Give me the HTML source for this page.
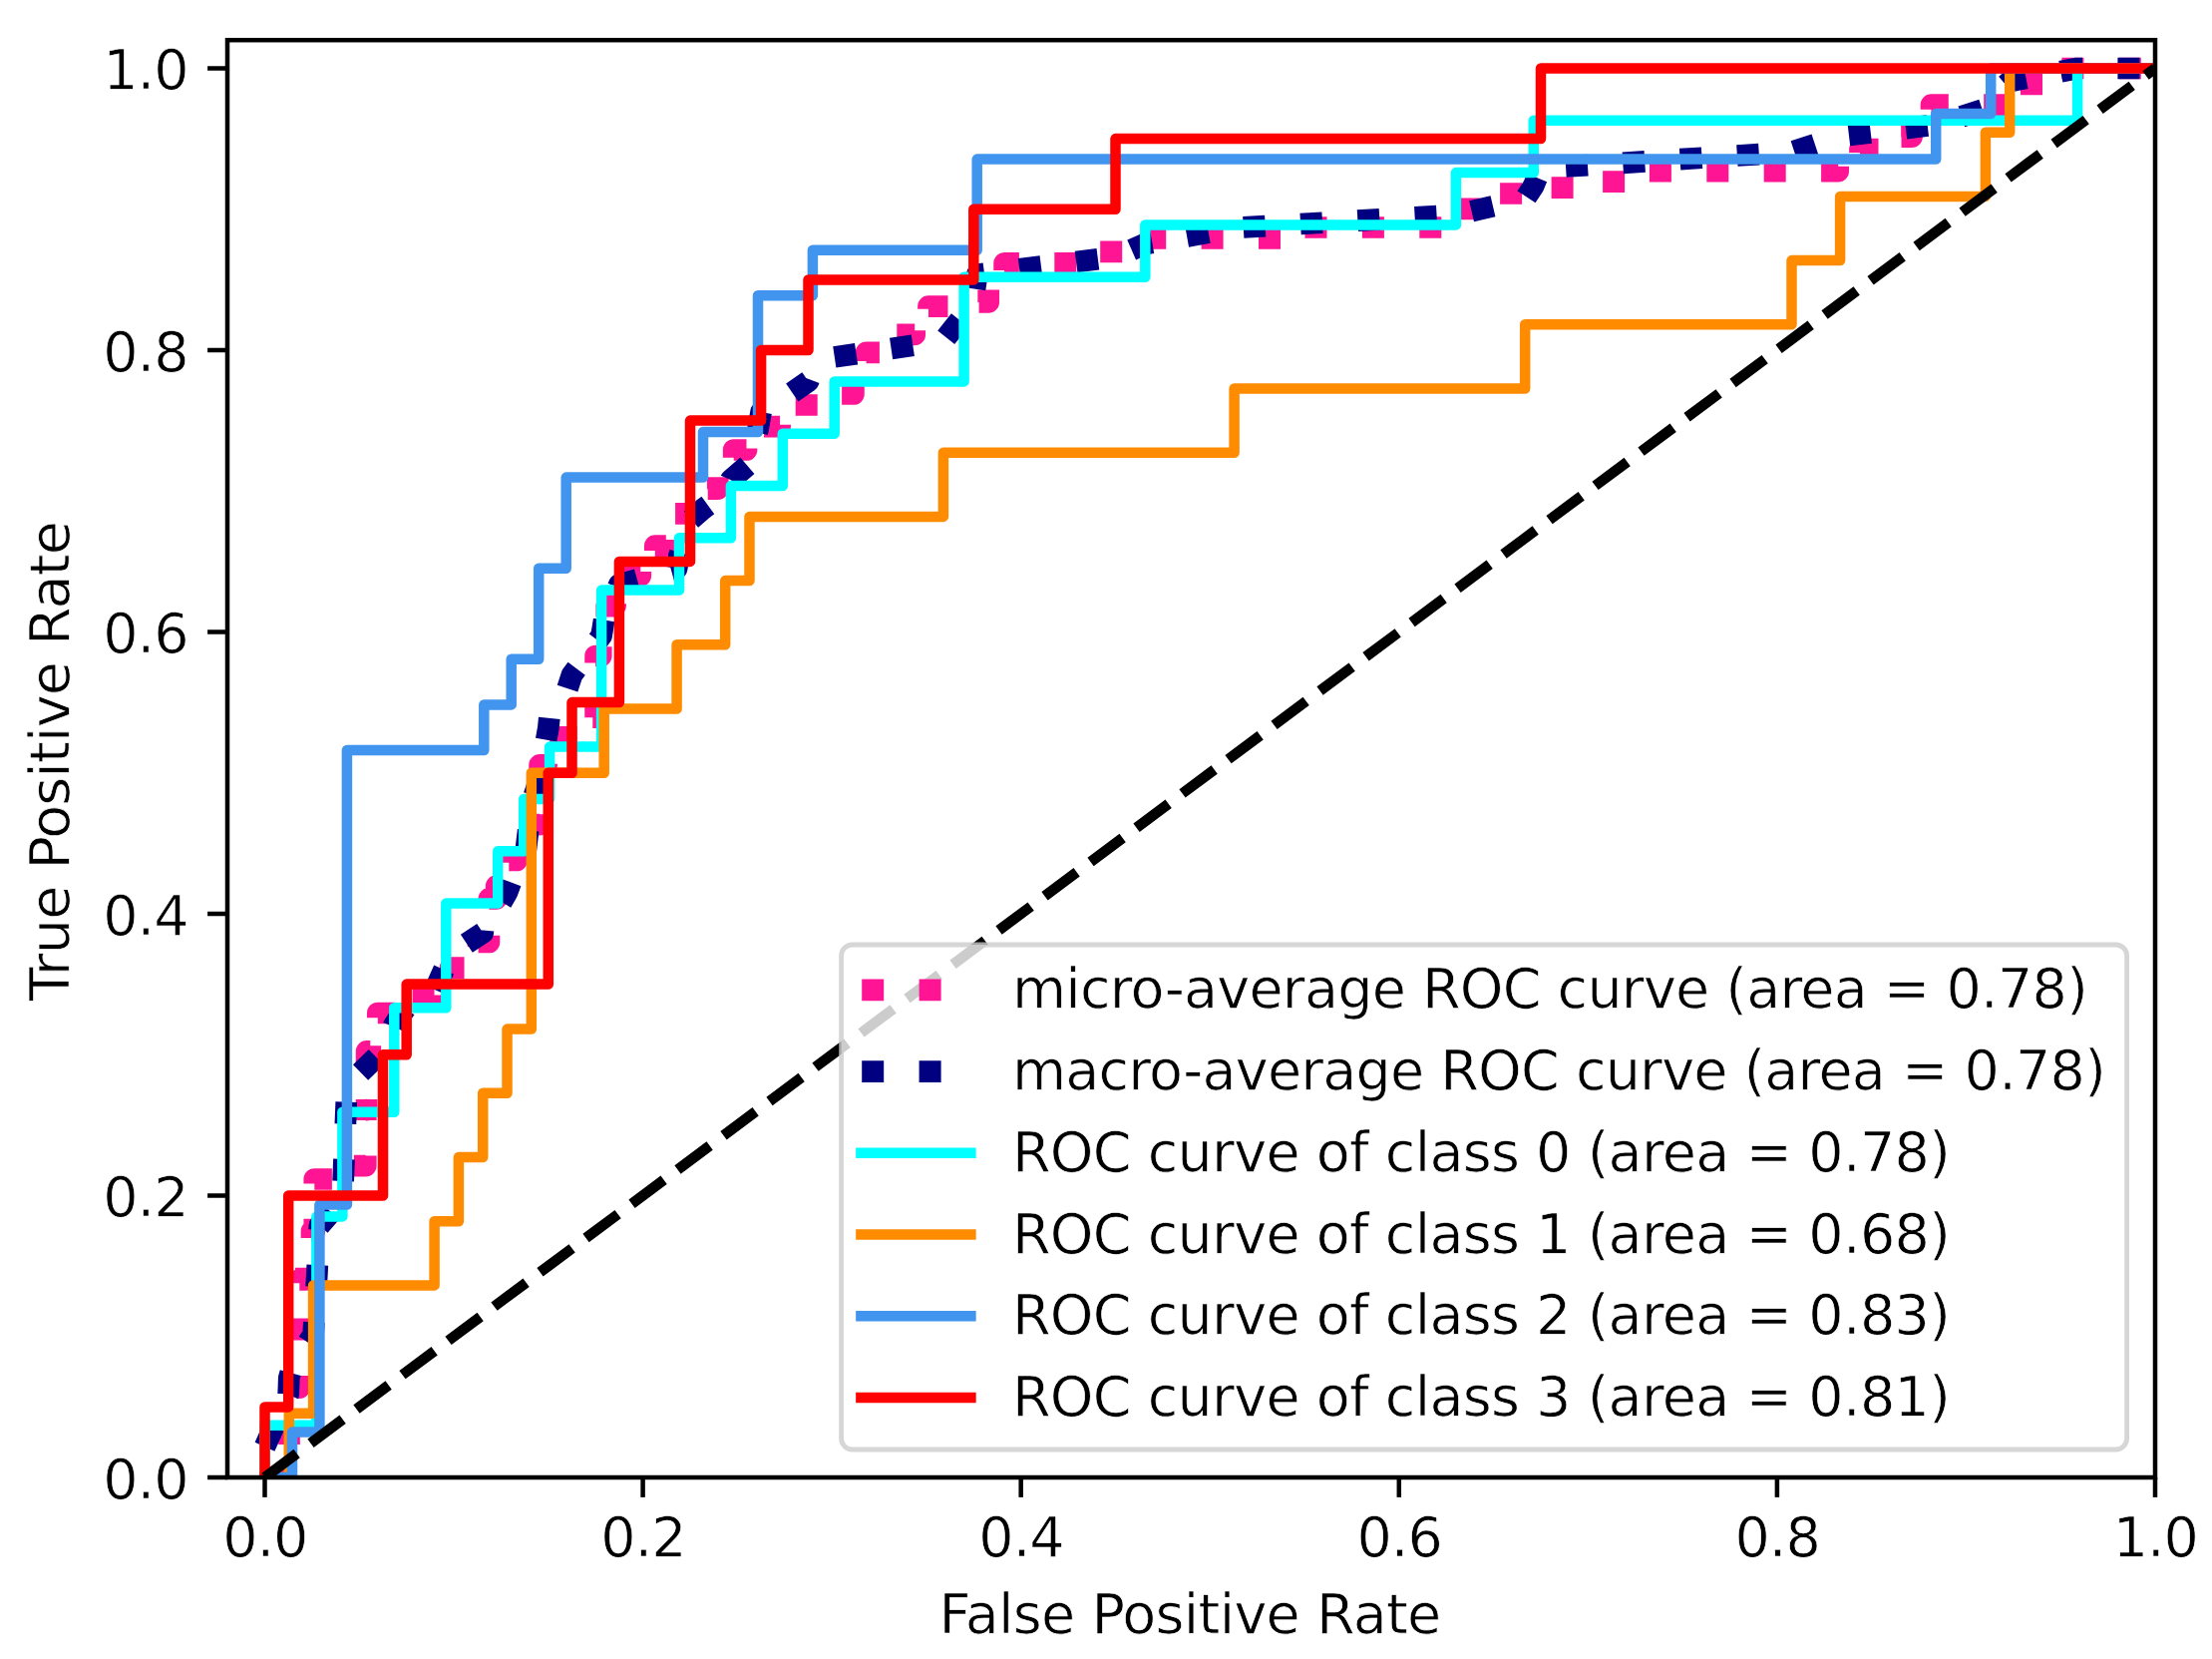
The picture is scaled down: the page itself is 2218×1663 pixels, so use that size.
<!DOCTYPE html>
<html lang="en"><head><meta charset="utf-8"><title>ROC curves</title>
<style>html,body{margin:0;padding:0;background:#fff}svg{display:block}text{font-family:"DejaVu Sans","Liberation Sans",sans-serif;font-size:55.56px;fill:#000;stroke:#fff;stroke-width:0.7px}</style>
</head><body>
<svg width="2218" height="1663" viewBox="0 0 2218 1663">
<rect x="0" y="0" width="2218" height="1663" fill="#fff"/>
<defs><clipPath id="ax"><rect x="228.0" y="40.2" width="1933.0" height="1440.8"/></clipPath></defs>
<g clip-path="url(#ax)" fill="none" stroke-linejoin="round">
<path d="M265.5 1481.0 L290.0 1481.0 L290.0 1481.0 L290.0 1424.0 L290.0 1424.0 L292.6 1424.0 L292.6 1407.5 L297.7 1407.5 L297.7 1391.1 L300.3 1391.1 L300.3 1335.1 L300.3 1335.1 L300.3 1282.8 L304.1 1282.8 L306.9 1282.8 L306.9 1258.5 L312.5 1258.5 L312.5 1234.2 L315.3 1234.2 L315.3 1182.0 L319.0 1182.0 L342.9 1182.0 L342.9 1168.6 L366.7 1168.6 L366.7 1112.6 L367.6 1112.6 L367.6 1053.8 L367.6 1053.8 L371.3 1053.8 L371.3 1034.7 L378.8 1034.7 L378.8 1015.5 L382.5 1015.5 L404.9 1015.5 L404.9 997.7 L427.4 997.7 L435.5 997.7 L435.5 984.0 L451.6 984.0 L451.6 970.2 L459.7 970.2 L466.3 970.2 L466.3 957.4 L479.6 957.4 L479.6 944.5 L486.2 944.5 L490.4 944.5 L490.4 900.9 L494.6 900.9 L497.7 900.9 L497.7 888.1 L504.0 888.1 L504.0 875.3 L510.3 875.3 L510.3 862.5 L513.4 862.5 L518.0 862.5 L518.0 850.5 L527.2 850.5 L527.2 838.6 L536.5 838.6 L536.5 826.6 L541.1 826.6 L541.1 766.8 L541.1 766.8 L548.1 766.8 L548.1 752.8 L562.1 752.8 L562.1 738.8 L569.1 738.8 L581.7 738.8 L581.7 719.2 L594.3 719.2 L597.1 719.2 L597.1 657.5 L599.9 657.5 L602.7 657.5 L602.7 632.3 L608.3 632.3 L608.3 607.1 L611.1 607.1 L617.1 607.1 L617.1 592.1 L629.1 592.1 L629.1 577.1 L635.1 577.1 L642.3 577.1 L642.3 562.2 L656.8 562.2 L656.8 547.2 L664.0 547.2 L667.8 547.2 L667.8 531.1 L675.2 531.1 L675.2 515.0 L679.0 515.0 L688.2 515.0 L688.2 502.6 L706.6 502.6 L706.6 490.2 L715.8 490.2 L719.8 490.2 L719.8 477.1 L727.8 477.1 L727.8 464.1 L735.7 464.1 L735.7 451.0 L739.7 451.0 L748.5 451.0 L748.5 439.3 L766.0 439.3 L766.0 427.6 L774.8 427.6 L782.1 427.6 L782.1 416.8 L796.9 416.8 L796.9 406.0 L804.2 406.0 L828.5 406.0 L828.5 395.0 L852.7 395.0 L855.9 395.0 L855.9 381.1 L862.2 381.1 L862.2 367.3 L868.6 367.3 L868.6 353.4 L871.8 353.4 L891.0 353.4 L891.0 335.4 L910.2 335.4 L917.2 335.4 L917.2 321.3 L931.0 321.3 L931.0 307.2 L938.0 307.2 L962.6 307.2 L962.6 302.9 L987.2 302.9 L991.2 302.9 L991.2 289.9 L999.2 289.9 L999.2 276.8 L1007.1 276.8 L1007.1 263.8 L1011.1 263.8 L1069.0 263.8 L1069.0 263.8 L1091.2 263.8 L1091.2 252.3 L1113.5 252.3 L1137.2 252.3 L1137.2 238.9 L1160.8 238.9 L1213.5 238.9 L1213.5 238.9 L1270.5 238.9 L1270.5 238.9 L1292.2 238.9 L1292.2 228.0 L1314.0 228.0 L1371.1 228.0 L1371.1 228.0 L1426.8 228.0 L1426.8 228.0 L1448.5 228.0 L1448.5 209.3 L1470.3 209.3 L1492.7 209.3 L1492.7 194.0 L1515.0 194.0 L1541.5 194.0 L1541.5 188.1 L1567.9 188.1 L1594.3 188.1 L1594.3 182.2 L1620.8 182.2 L1640.2 182.2 L1640.2 171.6 L1659.6 171.6 L1716.9 171.6 L1716.9 171.6 L1774.2 171.6 L1774.2 171.6 L1832.4 171.6 L1832.4 171.6 L1843.2 171.6 L1843.2 160.6 L1865.0 160.6 L1865.0 149.6 L1875.8 149.6 L1891.5 149.6 L1891.5 137.2 L1907.2 137.2 L1917.0 137.2 L1917.0 121.1 L1936.5 121.1 L1936.5 105.1 L1946.3 105.1 L2004.9 105.1 L2004.9 105.1 L2021.2 105.1 L2021.2 84.5 L2037.4 84.5 L2056.4 84.5 L2056.4 68.5 L2075.4 68.5 L2133.0 68.5 L2133.0 68.5 L2161.0 68.5 L2161.0 68.5" stroke="#ff1493" stroke-width="21.70" stroke-dasharray="22.0 35.4"/>
<path d="M265.5 1450.3 L289.2 1397.3 L289.8 1381.2 L293.0 1369.9 L314.1 1337.8 L317.4 1285.4 L320.4 1228.5 L343.4 1202.3 L347.9 1088.4 L384.0 1053.1 L395.3 1026.9 L407.7 1009.3 L435.6 993.2 L447.3 967.1 L459.9 951.0 L484.2 935.0 L485.3 923.6 L499.2 910.5 L508.5 894.5 L512.7 883.1 L525.2 870.0 L532.8 805.8 L540.2 783.0 L549.8 730.0 L551.1 717.0 L567.7 694.2 L573.5 676.5 L603.1 637.3 L605.7 621.2 L620.9 585.9 L678.6 569.9 L681.0 556.8 L692.0 521.5 L705.0 510.1 L727.2 494.0 L732.9 480.9 L751.5 464.9 L760.0 430.7 L763.1 413.1 L784.8 400.0 L810.5 382.3 L814.9 370.9 L836.7 357.9 L945.9 341.8 L966.6 315.7 L976.3 298.0 L979.7 275.2 L1118.5 257.6 L1148.3 244.5 L1237.6 228.4 L1459.9 215.4 L1529.2 199.3 L1537.8 186.2 L1545.0 168.6 L1796.5 152.5 L1845.1 136.5 L1941.2 125.1 L1990.9 109.0 L1996.2 97.6 L2015.2 81.6 L2083.1 68.5 L2161.0 68.5" stroke="#000080" stroke-width="21.70" stroke-dasharray="22.0 35.4"/>
<path d="M265.5 1481.0 L265.5 1428.7 L317.4 1428.7 L317.4 1219.4 L343.4 1219.4 L343.4 1114.8 L395.3 1114.8 L395.3 1010.2 L447.3 1010.2 L447.3 905.5 L499.2 905.5 L499.2 853.2 L525.2 853.2 L525.2 800.9 L551.1 800.9 L551.1 748.6 L603.1 748.6 L603.1 591.6 L681.0 591.6 L681.0 539.3 L732.9 539.3 L732.9 487.0 L784.8 487.0 L784.8 434.7 L836.7 434.7 L836.7 382.4 L966.6 382.4 L966.6 277.8 L1148.3 277.8 L1148.3 225.4 L1459.9 225.4 L1459.9 173.1 L1537.8 173.1 L1537.8 120.8 L2083.1 120.8 L2083.1 68.5 L2161.0 68.5" stroke="#00ffff" stroke-width="10.50" stroke-linecap="square"/>
<path d="M265.5 1481.0 L289.8 1481.0 L289.8 1416.8 L314.1 1416.8 L314.1 1288.4 L435.6 1288.4 L435.6 1224.2 L459.9 1224.2 L459.9 1160.0 L484.2 1160.0 L484.2 1095.8 L508.5 1095.8 L508.5 1031.6 L532.8 1031.6 L532.8 774.8 L605.7 774.8 L605.7 710.5 L678.6 710.5 L678.6 646.3 L727.2 646.3 L727.2 582.1 L751.5 582.1 L751.5 517.9 L945.9 517.9 L945.9 453.7 L1237.6 453.7 L1237.6 389.5 L1529.2 389.5 L1529.2 325.3 L1796.5 325.3 L1796.5 261.1 L1845.1 261.1 L1845.1 196.9 L1990.9 196.9 L1990.9 132.7 L2015.2 132.7 L2015.2 68.5 L2161.0 68.5" stroke="#ff8c00" stroke-width="10.50" stroke-linecap="square"/>
<path d="M265.5 1481.0 L293.0 1481.0 L293.0 1435.4 L320.4 1435.4 L320.4 1207.6 L347.9 1207.6 L347.9 752.0 L485.3 752.0 L485.3 706.4 L512.7 706.4 L512.7 660.8 L540.2 660.8 L540.2 569.7 L567.7 569.7 L567.7 478.6 L705.0 478.6 L705.0 433.0 L760.0 433.0 L760.0 296.3 L814.9 296.3 L814.9 250.8 L979.7 250.8 L979.7 159.6 L1941.2 159.6 L1941.2 114.1 L1996.2 114.1 L1996.2 68.5 L2161.0 68.5" stroke="#4295ee" stroke-width="10.50" stroke-linecap="square"/>
<path d="M265.5 1481.0 L265.5 1410.4 L289.2 1410.4 L289.2 1198.5 L384.0 1198.5 L384.0 1057.2 L407.7 1057.2 L407.7 986.6 L549.8 986.6 L549.8 774.8 L573.5 774.8 L573.5 704.1 L620.9 704.1 L620.9 562.9 L692.0 562.9 L692.0 421.6 L763.1 421.6 L763.1 351.0 L810.5 351.0 L810.5 280.4 L976.3 280.4 L976.3 209.8 L1118.5 209.8 L1118.5 139.1 L1545.0 139.1 L1545.0 68.5 L2161.0 68.5" stroke="#ff0000" stroke-width="10.50" stroke-linecap="square"/>
<path d="M265.5 1481.0 L2161.0 68.5" stroke="#000" stroke-width="10.50" stroke-dasharray="40.05 17.32"/>
</g>
<g stroke="#000" stroke-width="4.50" fill="none">
<path d="M265.5 1481.0 v19.9"/>
<path d="M228.0 1481.0 h-19.9"/>
<path d="M644.6 1481.0 v19.9"/>
<path d="M228.0 1198.5 h-19.9"/>
<path d="M1023.7 1481.0 v19.9"/>
<path d="M228.0 916.0 h-19.9"/>
<path d="M1402.8 1481.0 v19.9"/>
<path d="M228.0 633.5 h-19.9"/>
<path d="M1781.9 1481.0 v19.9"/>
<path d="M228.0 351.0 h-19.9"/>
<path d="M2161.0 1481.0 v19.9"/>
<path d="M228.0 68.5 h-19.9"/>
<rect x="228.0" y="40.2" width="1933.0" height="1440.8" stroke-linejoin="miter"/>
</g>
<text x="265.8" y="1559.8" text-anchor="middle" letter-spacing="-1">0.0</text>
<text x="188.6" y="1501.8" text-anchor="end" letter-spacing="-1">0.0</text>
<text x="644.9" y="1559.8" text-anchor="middle" letter-spacing="-1">0.2</text>
<text x="188.6" y="1219.3" text-anchor="end" letter-spacing="-1">0.2</text>
<text x="1024.0" y="1559.8" text-anchor="middle" letter-spacing="-1">0.4</text>
<text x="188.6" y="936.8" text-anchor="end" letter-spacing="-1">0.4</text>
<text x="1403.1" y="1559.8" text-anchor="middle" letter-spacing="-1">0.6</text>
<text x="188.6" y="654.3" text-anchor="end" letter-spacing="-1">0.6</text>
<text x="1782.2" y="1559.8" text-anchor="middle" letter-spacing="-1">0.8</text>
<text x="188.6" y="371.8" text-anchor="end" letter-spacing="-1">0.8</text>
<text x="2161.3" y="1559.8" text-anchor="middle" letter-spacing="-1">1.0</text>
<text x="188.6" y="89.3" text-anchor="end" letter-spacing="-1">1.0</text>
<text x="1193.1" y="1636.8" text-anchor="middle" letter-spacing="-0.7">False Positive Rate</text>
<text transform="translate(69.2 763.0) rotate(-90)" text-anchor="middle" letter-spacing="-0.8">True Positive Rate</text>
<rect x="843.6" y="947.0" width="1289.0" height="506.0" rx="11" ry="11" fill="#fff" fill-opacity="0.8" stroke="#ccc" stroke-opacity="0.8" stroke-width="4.80"/>
<path d="M864.2 992.4 H975.3" stroke="#ff1493" stroke-width="21.70" stroke-dasharray="22.0 35.4" fill="none"/>
<text x="1014.9" y="1010.3" letter-spacing="-0.769">micro-average ROC curve (area = 0.78)</text>
<path d="M864.2 1074.1 H975.3" stroke="#000080" stroke-width="21.70" stroke-dasharray="22.0 35.4" fill="none"/>
<text x="1014.9" y="1092.0" letter-spacing="-0.786">macro-average ROC curve (area = 0.78)</text>
<path d="M863.4 1155.8 H973.4" stroke="#00ffff" stroke-width="10.50" stroke-linecap="square" fill="none"/>
<text x="1014.9" y="1173.7" letter-spacing="-0.715">ROC curve of class 0 (area = 0.78)</text>
<path d="M863.4 1237.6 H973.4" stroke="#ff8c00" stroke-width="10.50" stroke-linecap="square" fill="none"/>
<text x="1014.9" y="1255.5" letter-spacing="-0.715">ROC curve of class 1 (area = 0.68)</text>
<path d="M863.4 1319.3 H973.4" stroke="#4295ee" stroke-width="10.50" stroke-linecap="square" fill="none"/>
<text x="1014.9" y="1337.2" letter-spacing="-0.715">ROC curve of class 2 (area = 0.83)</text>
<path d="M863.4 1401.0 H973.4" stroke="#ff0000" stroke-width="10.50" stroke-linecap="square" fill="none"/>
<text x="1014.9" y="1418.9" letter-spacing="-0.715">ROC curve of class 3 (area = 0.81)</text>
</svg></body></html>
